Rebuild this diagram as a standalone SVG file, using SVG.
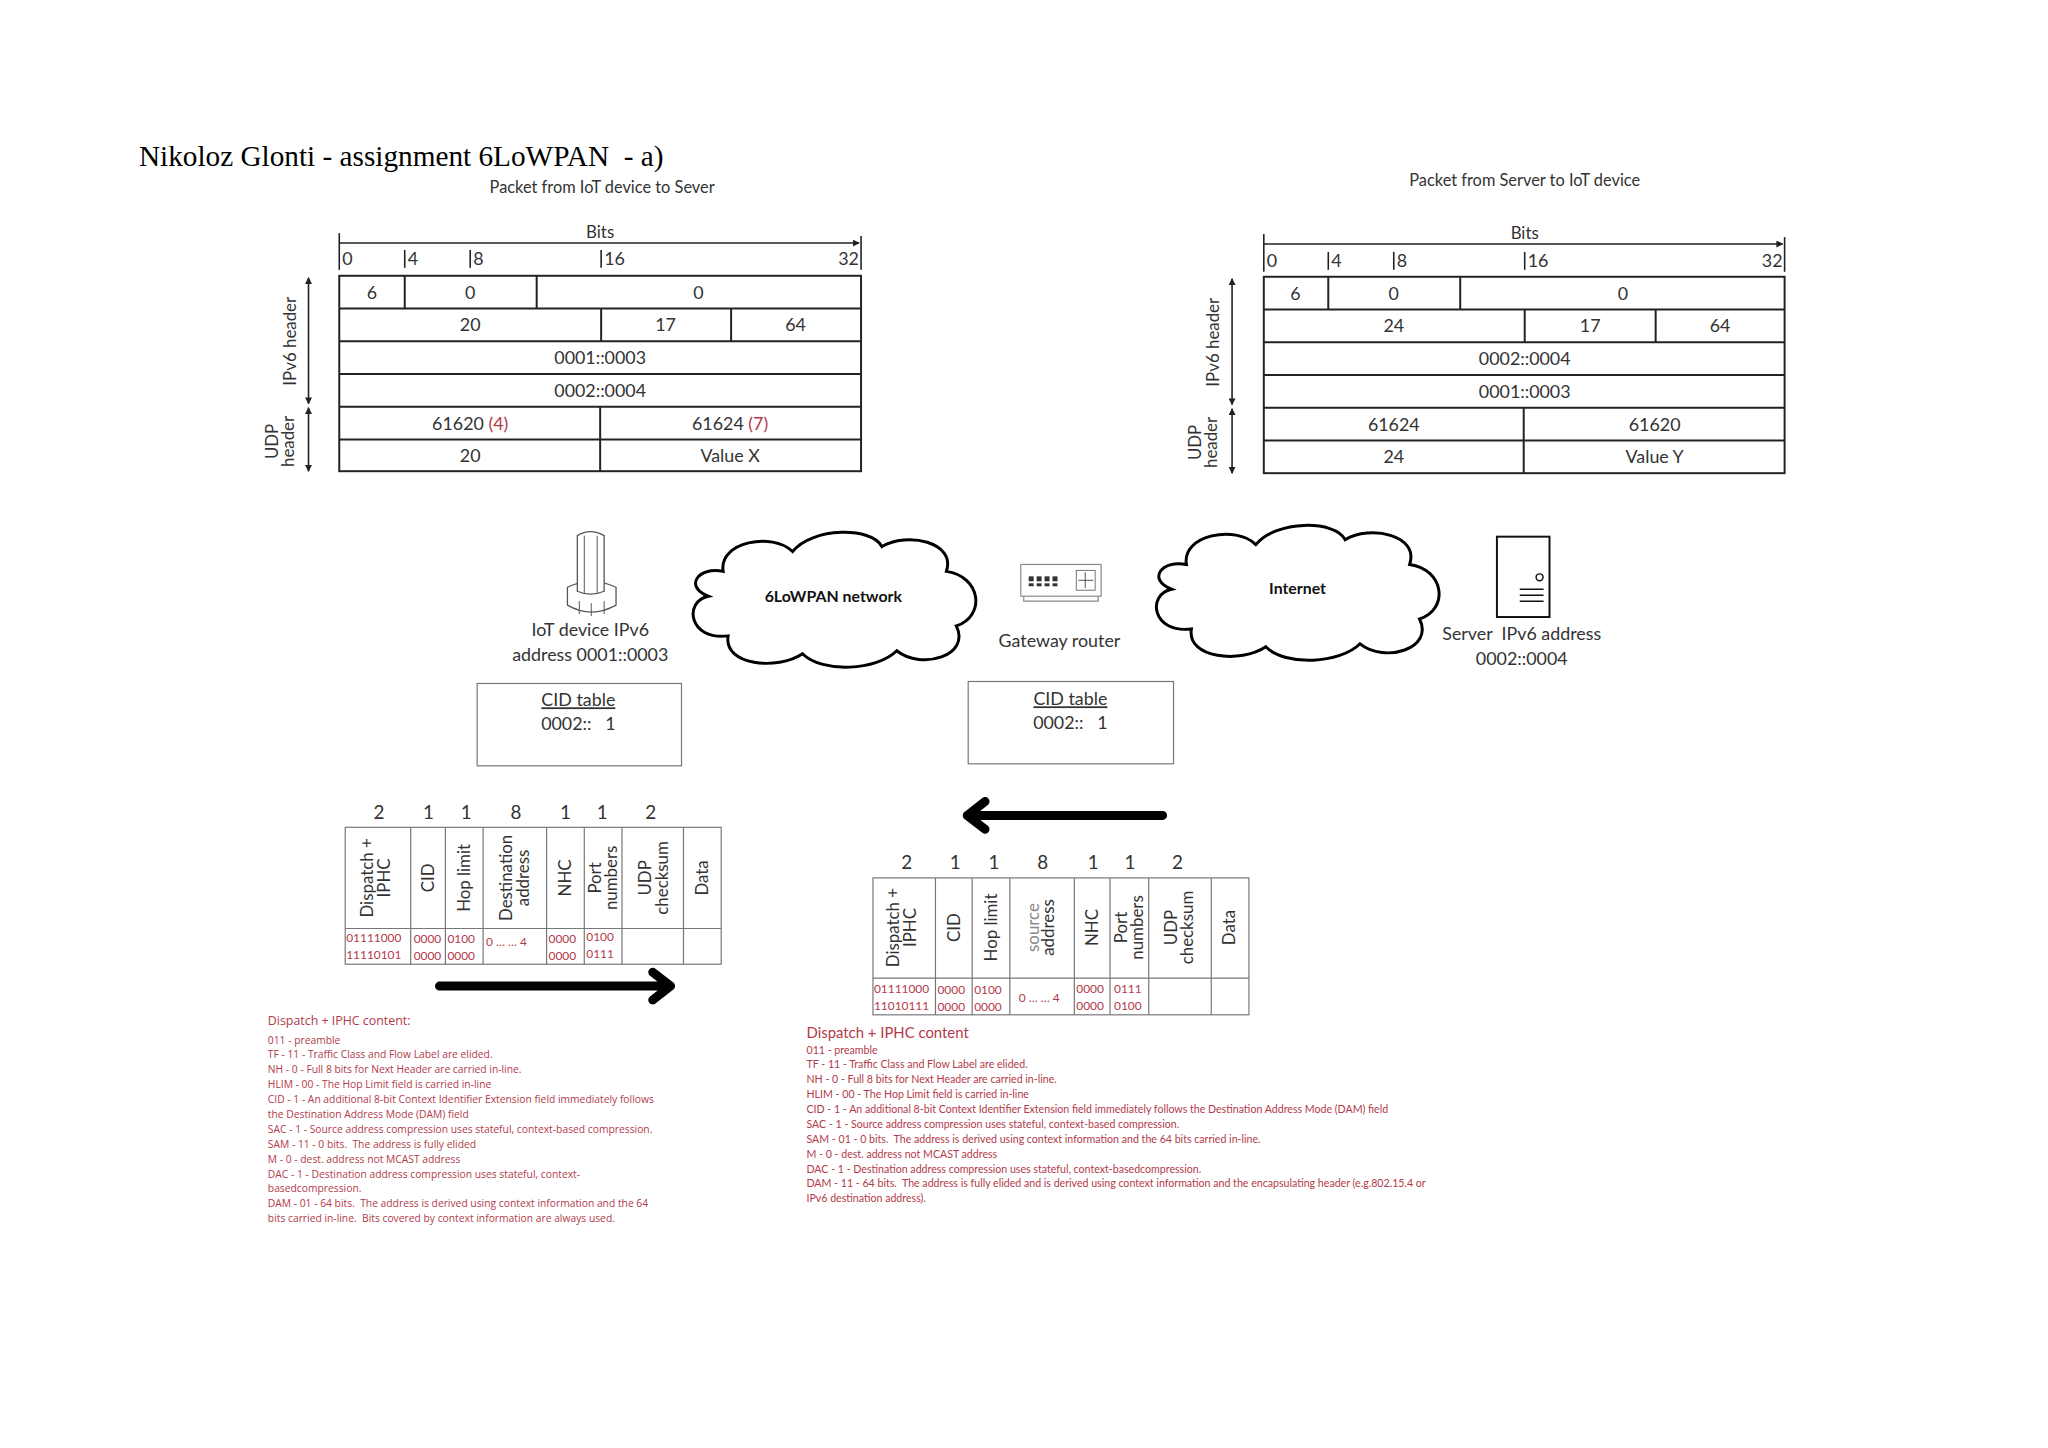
<svg xmlns="http://www.w3.org/2000/svg" width="2048" height="1448" viewBox="0 0 2048 1448">
<style>
text{white-space:pre;}
.t{font-family:Lato,"Open Sans",sans-serif;fill:#333;}
.c{text-anchor:middle;}
.cell{fill:none;stroke:#222;stroke-width:2;}
.thin{fill:none;stroke:#777;stroke-width:1.2;}
.ln{stroke:#222;stroke-width:1.6;fill:none;}
.red{font-family:"Open Sans",Lato,sans-serif;fill:#b23a4a;}
.hd{font-size:17px;}
.num{font-size:19px;}
.dat{font-family:Lato,sans-serif;fill:#b23a4a;font-size:12px;}
.big{fill:none;stroke:#000;stroke-width:9;stroke-linecap:round;stroke-linejoin:round;}
</style>
<defs>
<marker id="ah" viewBox="0 0 10 10" refX="9" refY="5" markerWidth="7" markerHeight="7" orient="auto-start-reverse" markerUnits="userSpaceOnUse"><path d="M0,0 L10,5 L0,10 Z" fill="#222"/></marker>
<path id="cloud" d="M40,45 C35,15 90,5 110,25 C130,0 190,0 200,20 C225,5 275,15 265,45 C300,50 305,90 275,100 C290,130 240,145 215,125 C195,145 140,148 120,128 C95,145 40,140 45,110 C5,115 0,75 25,70 C0,60 15,40 40,45 Z" fill="#fff" stroke="#000" stroke-width="3"/>
</defs>
<rect width="2048" height="1448" fill="#fff"/>
<g transform="scale(0.992)">
<text x="140" y="167" style="font-family:'Liberation Serif',serif;font-size:29.5px;fill:#000">Nikoloz Glonti - assignment 6LoWPAN  - a)</text>

<g id="packet-left">
<text class="t c" x="607" y="195" font-size="16.5">Packet from IoT device to Sever</text>
<text class="t c" x="605" y="240" font-size="17">Bits</text>
<line class="ln" x1="342" y1="245" x2="866" y2="245" marker-end="url(#ah)"/>
<line class="ln" x1="342" y1="235" x2="342" y2="272"/><line class="ln" x1="868" y1="238" x2="868" y2="272"/>
<line class="ln" x1="408" y1="252" x2="408" y2="270"/><line class="ln" x1="474" y1="252" x2="474" y2="270"/><line class="ln" x1="606" y1="252" x2="606" y2="270"/>
<g class="t" font-size="18"><text x="345" y="267">0</text><text x="411" y="267">4</text><text x="477" y="267">8</text><text x="609" y="267">16</text><text x="845" y="267">32</text></g>
<rect class="cell" x="342" y="278" width="526" height="197"/>
<path class="cell" d="M342,311H868M342,344H868M342,377H868M342,410H868M342,443H868M408,278V311M541,278V311M606,311V344M737,311V344M605,410V475"/>
<g class="t c" font-size="18">
<text x="375" y="301">6</text><text x="474" y="301">0</text><text x="704" y="301">0</text>
<text x="474" y="334">20</text><text x="671" y="334">17</text><text x="802" y="334">64</text>
<text x="605" y="367">0001::0003</text><text x="605" y="400">0002::0004</text>
<text x="474" y="433">61620 <tspan fill="#b23a4a">(4)</tspan></text><text x="736" y="433">61624 <tspan fill="#b23a4a">(7)</tspan></text>
<text x="474" y="466">20</text><text x="736" y="466">Value X</text>
</g>
<line class="ln" x1="311" y1="280" x2="311" y2="407" marker-start="url(#ah)" marker-end="url(#ah)"/>
<line class="ln" x1="311" y1="411" x2="311" y2="475" marker-start="url(#ah)" marker-end="url(#ah)"/>
<text class="t c" font-size="17" transform="translate(298,344) rotate(-90)">IPv6 header</text>
<text class="t c" font-size="17" transform="translate(280,445) rotate(-90)">UDP</text>
<text class="t c" font-size="17" transform="translate(296,445) rotate(-90)">header</text>
</g>

<g id="packet-right">
<text class="t c" x="1537" y="187" font-size="16.5">Packet from Server to IoT device</text>
<text class="t c" x="1537" y="241" font-size="17">Bits</text>
<line class="ln" x1="1274" y1="246" x2="1797" y2="246" marker-end="url(#ah)"/>
<line class="ln" x1="1274" y1="236" x2="1274" y2="274"/><line class="ln" x1="1799" y1="239" x2="1799" y2="274"/>
<line class="ln" x1="1339" y1="254" x2="1339" y2="272"/><line class="ln" x1="1405" y1="254" x2="1405" y2="272"/><line class="ln" x1="1537" y1="254" x2="1537" y2="272"/>
<g class="t" font-size="18"><text x="1277" y="269">0</text><text x="1342" y="269">4</text><text x="1408" y="269">8</text><text x="1540" y="269">16</text><text x="1776" y="269">32</text></g>
<rect class="cell" x="1274" y="279" width="525" height="198"/>
<path class="cell" d="M1274,312H1799M1274,345H1799M1274,378H1799M1274,411H1799M1274,444H1799M1339,279V312M1472,279V312M1537,312V345M1669,312V345M1536,411V477"/>
<g class="t c" font-size="18">
<text x="1306" y="302">6</text><text x="1405" y="302">0</text><text x="1636" y="302">0</text>
<text x="1405" y="335">24</text><text x="1603" y="335">17</text><text x="1734" y="335">64</text>
<text x="1537" y="368">0002::0004</text><text x="1537" y="401">0001::0003</text>
<text x="1405" y="434">61624</text><text x="1668" y="434">61620</text>
<text x="1405" y="467">24</text><text x="1668" y="467">Value Y</text>
</g>
<line class="ln" x1="1242" y1="281" x2="1242" y2="408" marker-start="url(#ah)" marker-end="url(#ah)"/>
<line class="ln" x1="1242" y1="412" x2="1242" y2="477" marker-start="url(#ah)" marker-end="url(#ah)"/>
<text class="t c" font-size="17" transform="translate(1229,345) rotate(-90)">IPv6 header</text>
<text class="t c" font-size="17" transform="translate(1211,446) rotate(-90)">UDP</text>
<text class="t c" font-size="17" transform="translate(1227,446) rotate(-90)">header</text>
</g>

<g id="iot-device">
<path d="M572,592 L572,610 Q596,624 621,610 L621,592 Q596,580 572,592 Z" fill="#fff" stroke="#555" stroke-width="1.3"/>
<path d="M584,606 V619 M596,608 V621 M609,606 V619" stroke="#555" stroke-width="1"/>
<path d="M582,540 Q595,532 609,540 V596 Q595,602 582,596 Z" fill="#fff" stroke="#555" stroke-width="1.3"/>
<path d="M589,540 V598 M602,540 V598" stroke="#555" stroke-width="1"/>
<text class="t c" x="595" y="641" font-size="18" fill="#555">IoT device IPv6</text>
<text class="t c" x="595" y="666" font-size="18" fill="#555">address 0001::0003</text>
</g>
<g id="net-6lowpan">
<use href="#cloud" transform="translate(689,531)"/>
<text class="c" x="840" y="607" style="font-family:Lato,sans-serif;font-weight:bold;font-size:16px;fill:#111">6LoWPAN network</text>
</g>
<g id="gateway">
<rect x="1029" y="569" width="81" height="32" fill="#fff" stroke="#888" stroke-width="1.2"/>
<path d="M1032,601 V606 H1107 V601" fill="none" stroke="#888" stroke-width="1.2"/>
<rect x="1085" y="575" width="19" height="20" fill="none" stroke="#777" stroke-width="1"/>
<g fill="#333"><rect x="1037" y="581" width="5" height="5"/><rect x="1045" y="581" width="5" height="5"/><rect x="1053" y="581" width="5" height="5"/><rect x="1061" y="581" width="5" height="5"/><rect x="1037" y="588" width="5" height="3"/><rect x="1045" y="588" width="5" height="3"/><rect x="1053" y="588" width="5" height="3"/><rect x="1061" y="588" width="5" height="3"/></g>
<path d="M1094,577 V593 M1087,585 H1102" stroke="#555" stroke-width="1"/>
<text class="t c" x="1068" y="652" font-size="18" fill="#555">Gateway router</text>
</g>
<g id="net-internet">
<use href="#cloud" transform="translate(1156,524)"/>
<text class="c" x="1308" y="599" style="font-family:Lato,sans-serif;font-weight:bold;font-size:16px;fill:#111">Internet</text>
</g>
<g id="server">
<rect x="1509" y="541" width="53" height="81" fill="#fff" stroke="#111" stroke-width="2"/>
<circle cx="1552" cy="582" r="3.5" fill="none" stroke="#111" stroke-width="1.5"/>
<path d="M1532,594 H1556 M1532,600 H1556 M1532,606 H1556" stroke="#111" stroke-width="1.5"/>
<text class="t c" x="1534" y="645" font-size="18" fill="#555">Server  IPv6 address</text>
<text class="t c" x="1534" y="670" font-size="18" fill="#555">0002::0004</text>
</g>
<g id="cid-left">
<rect x="481" y="689" width="206" height="83" class="thin"/>
<text class="t c" x="583" y="712" font-size="18" text-decoration="underline">CID table</text>
<text class="t c" x="583" y="736" font-size="18">0002::   1</text>
</g>
<g id="cid-right">
<rect x="976" y="687" width="207" height="83" class="thin"/>
<text class="t c" x="1079" y="711" font-size="18" text-decoration="underline">CID table</text>
<text class="t c" x="1079" y="735" font-size="18">0002::   1</text>
</g>

<g id="frag-left">
<rect class="thin" x="348" y="834" width="379" height="138"/>
<path class="thin" d="M348,936H727M414,834V972M449,834V972M487,834V972M551,834V972M589,834V972M627,834V972M689,834V972"/>
<g class="t c num"><text x="382" y="826">2</text><text x="432" y="826">1</text><text x="470" y="826">1</text><text x="520" y="826">8</text><text x="570" y="826">1</text><text x="607" y="826">1</text><text x="656" y="826">2</text></g>
<g class="t c hd">
<text transform="translate(376,885) rotate(-90)">Dispatch +</text><text transform="translate(393,885) rotate(-90)">IPHC</text>
<text transform="translate(438,885) rotate(-90)">CID</text>
<text transform="translate(474,885) rotate(-90)">Hop limit</text>
<text transform="translate(516,885) rotate(-90)">Destination</text><text transform="translate(533,885) rotate(-90)">address</text>
<text transform="translate(576,885) rotate(-90)">NHC</text>
<text transform="translate(606,885) rotate(-90)">Port</text><text transform="translate(622,885) rotate(-90)">numbers</text>
<text transform="translate(656,885) rotate(-90)">UDP</text><text transform="translate(673,885) rotate(-90)">checksum</text>
<text transform="translate(714,885) rotate(-90)">Data</text>
</g>
<g class="dat">
<text x="349" y="950">01111000</text><text x="349" y="967">11110101</text>
<text x="417" y="951">0000</text><text x="417" y="968">0000</text>
<text x="451" y="951">0100</text><text x="451" y="968">0000</text>
<text x="490" y="954">0 … … 4</text>
<text x="553" y="951">0000</text><text x="553" y="968">0000</text>
<text x="591" y="949">0100</text><text x="591" y="966">0111</text>
</g>
</g>

<g id="frag-right">
<rect class="thin" x="880" y="885" width="379" height="138"/>
<path class="thin" d="M880,986H1259M943,885V1023M980,885V1023M1018,885V1023M1083,885V1023M1119,885V1023M1158,885V1023M1221,885V1023"/>
<g class="t c num"><text x="914" y="876">2</text><text x="963" y="876">1</text><text x="1002" y="876">1</text><text x="1051" y="876">8</text><text x="1102" y="876">1</text><text x="1139" y="876">1</text><text x="1187" y="876">2</text></g>
<g class="t c hd">
<text transform="translate(906,935) rotate(-90)">Dispatch +</text><text transform="translate(923,935) rotate(-90)">IPHC</text>
<text transform="translate(968,935) rotate(-90)">CID</text>
<text transform="translate(1005,935) rotate(-90)">Hop limit</text>
<text transform="translate(1047,935) rotate(-90)" fill="#888">source</text><text transform="translate(1063,935) rotate(-90)">address</text>
<text transform="translate(1107,935) rotate(-90)">NHC</text>
<text transform="translate(1136,935) rotate(-90)">Port</text><text transform="translate(1152,935) rotate(-90)">numbers</text>
<text transform="translate(1186,935) rotate(-90)">UDP</text><text transform="translate(1203,935) rotate(-90)">checksum</text>
<text transform="translate(1245,935) rotate(-90)">Data</text>
</g>
<g class="dat">
<text x="881" y="1001">01111000</text><text x="881" y="1018">11010111</text>
<text x="945" y="1002">0000</text><text x="945" y="1019">0000</text>
<text x="982" y="1002">0100</text><text x="982" y="1019">0000</text>
<text x="1027" y="1010">0 … … 4</text>
<text x="1085" y="1001">0000</text><text x="1085" y="1018">0000</text>
<text x="1123" y="1001">0111</text><text x="1123" y="1018">0100</text>
</g>
</g>

<g id="connectors">
<path class="big" d="M1172,822 H975 M993,808 L975,822 L993,836"/>
<path class="big" d="M443,994 H676 M658,980 L676,994 L658,1008"/>
</g>

<g id="notes-left" class="red" font-size="10.4">
<text x="270" y="1033" font-size="12.5">Dispatch + IPHC content:</text>
<text x="270" y="1052">011 - preamble</text>
<text x="270" y="1067">TF - 11 - Traffic Class and Flow Label are elided.</text>
<text x="270" y="1082">NH - 0 - Full 8 bits for Next Header are carried in-line.</text>
<text x="270" y="1097">HLIM - 00 - The Hop Limit field is carried in-line</text>
<text x="270" y="1112">CID - 1 - An additional 8-bit Context Identifier Extension field immediately follows</text>
<text x="270" y="1127">the Destination Address Mode (DAM) field</text>
<text x="270" y="1142">SAC - 1 - Source address compression uses stateful, context-based compression.</text>
<text x="270" y="1157">SAM - 11 - 0 bits.  The address is fully elided</text>
<text x="270" y="1172">M - 0 - dest. address not MCAST address</text>
<text x="270" y="1187">DAC - 1 - Destination address compression uses stateful, context-</text>
<text x="270" y="1202">basedcompression.</text>
<text x="270" y="1217">DAM - 01 - 64 bits.  The address is derived using context information and the 64</text>
<text x="270" y="1232">bits carried in-line.  Bits covered by context information are always used.</text>
</g>
<g id="notes-right" class="red" font-size="10.7" style="font-family:Lato,sans-serif">
<text x="813" y="1046" font-size="15">Dispatch + IPHC content</text>
<text x="813" y="1062">011 - preamble</text>
<text x="813" y="1077">TF - 11 - Traffic Class and Flow Label are elided.</text>
<text x="813" y="1092">NH - 0 - Full 8 bits for Next Header are carried in-line.</text>
<text x="813" y="1107">HLIM - 00 - The Hop Limit field is carried in-line</text>
<text x="813" y="1122">CID - 1 - An additional 8-bit Context Identifier Extension field immediately follows the Destination Address Mode (DAM) field</text>
<text x="813" y="1137">SAC - 1 - Source address compression uses stateful, context-based compression.</text>
<text x="813" y="1152">SAM - 01 - 0 bits.  The address is derived using context information and the 64 bits carried in-line.</text>
<text x="813" y="1167">M - 0 - dest. address not MCAST address</text>
<text x="813" y="1182">DAC - 1 - Destination address compression uses stateful, context-basedcompression.</text>
<text x="813" y="1197">DAM - 11 - 64 bits.  The address is fully elided and is derived using context information and the encapsulating header (e.g.802.15.4 or</text>
<text x="813" y="1212">IPv6 destination address).</text>
</g>
</g>
</svg>
